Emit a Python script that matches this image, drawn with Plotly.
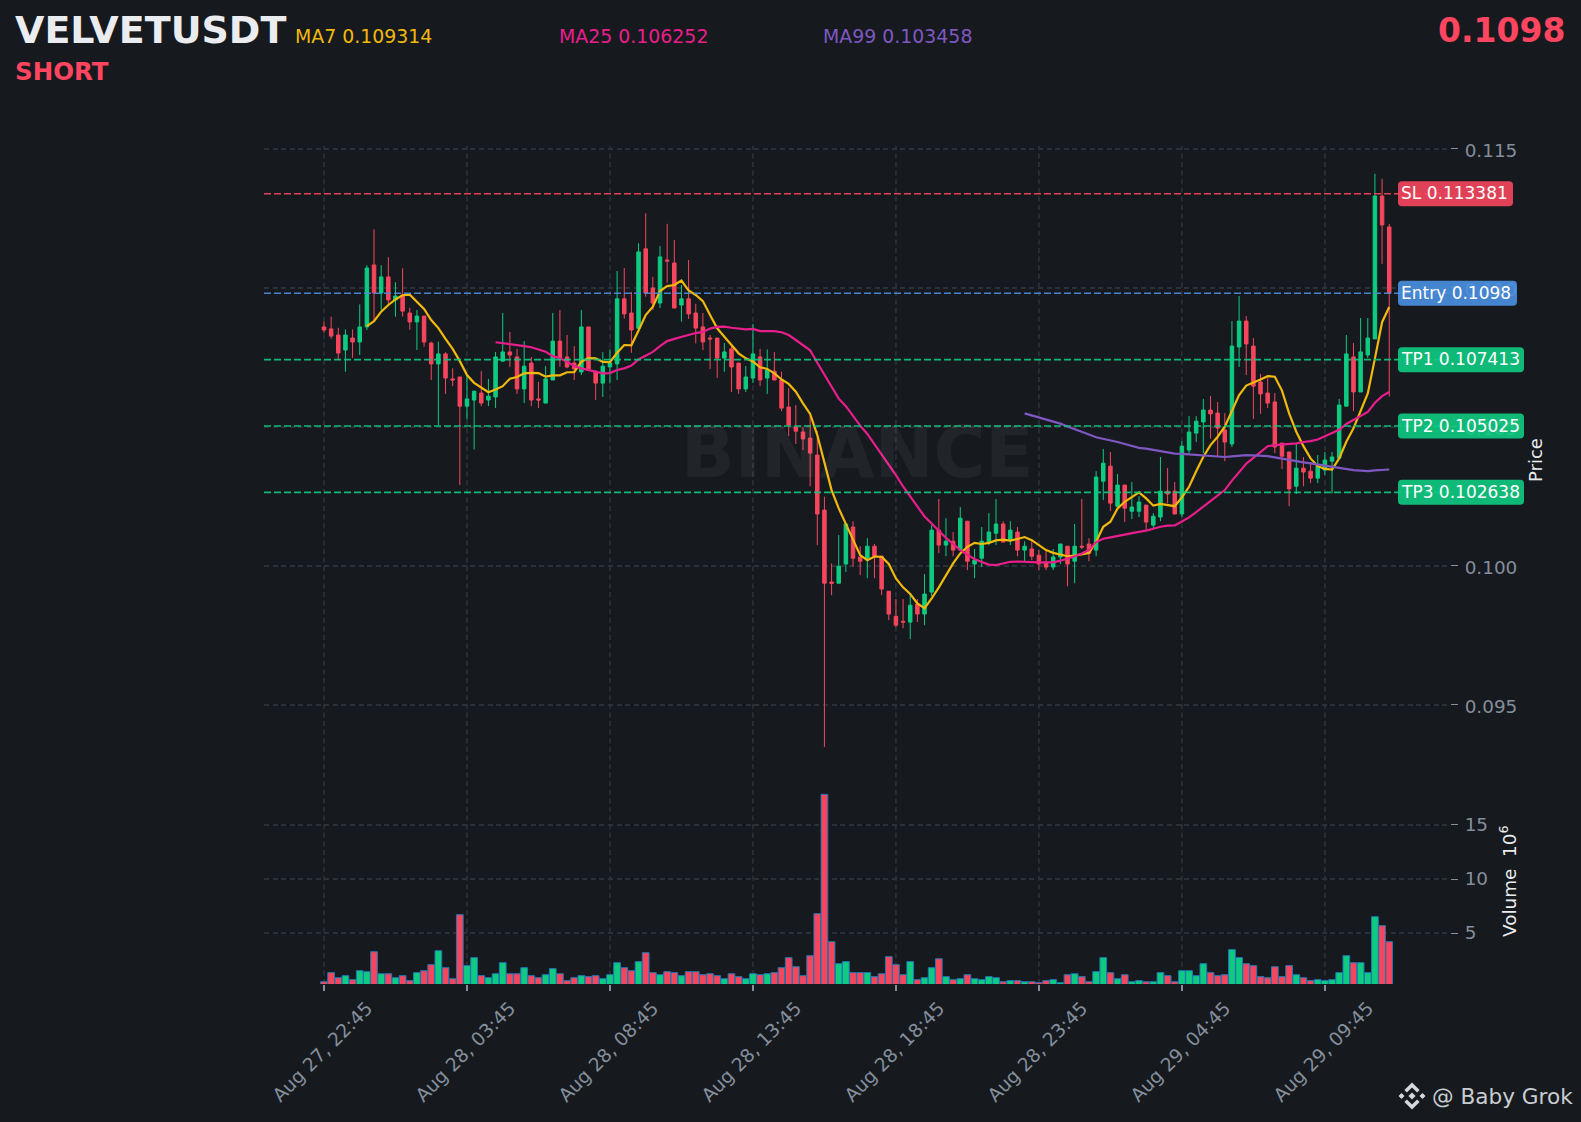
import pandas as pd
import plotly.graph_objects as go
from plotly.subplots import make_subplots

times = pd.date_range("2025-08-27 22:45", periods=150, freq="15min")

opens = [.10859, .10852, .10830, .10776, .10819, .10805, .10859, .11082, .10981, .11039,
         .10956, .10974, .10909, .10877, .10898, .10801, .10726, .10762, .10672, .10679,
         .10574, .10596, .10621, .10596, .10607, .10736, .10769, .10751, .10636, .10729,
         .10600, .10585, .10668, .10808, .10751, .10729, .10697, .10859, .10697, .10657,
         .10715, .10726, .10960, .10909, .10854, .11140, .10999, .10945, .11100, .11089,
         .10938, .10960, .10909, .10859, .10819, .10819, .10747, .10780, .10729, .10636,
         .10675, .10751, .10675, .10700, .10668, .10571, .10499, .10481, .10459, .10398,
         .10200, .09941, .09937, .10006, .10139, .10031, .10027, .10070, .10034, .09908,
         .09818, .09800, .09797, .09862, .09826, .09905, .10128, .10074, .10088, .10056,
         .10160, .10006, .10027, .10085, .10117, .10150, .10092, .10121, .10056, .10060,
         .10038, .10013, .09995, .10031, .10070, .10016, .10070, .10078, .10056, .10304,
         .10358, .10214, .10290, .10196, .10196, .10218, .10146, .10175, .10268, .10268,
         .10186, .10416, .10477, .10517, .10560, .10549, .10488, .10438, .10787, .10880,
         .10790, .10661, .10621, .10589, .10441, .10409, .10286, .10351, .10340, .10315,
         .10344, .10376, .10387, .10574, .10751, .10625, .10758, .10816, .11330, .11219]

highs = [.10878, .10896, .10856, .10850, .10850, .10940, .11081, .11210, .11081, .11110,
         .11020, .11070, .10928, .10920, .10898, .10806, .10806, .10768, .10710, .10679,
         .10686, .10628, .10700, .10672, .10769, .10909, .10841, .10780, .10808, .10751,
         .10661, .10718, .10909, .10920, .10830, .10790, .10920, .10859, .10704, .10768,
         .10778, .11060, .11071, .10985, .11160, .11268, .11039, .11150, .11230, .11172,
         .11010, .11100, .10942, .10909, .10830, .10819, .10801, .10790, .10729, .10718,
         .10870, .10780, .10778, .10769, .10698, .10639, .10578, .10499, .10538, .10484,
         .10248, .10008, .10110, .10150, .10160, .10070, .10099, .10078, .10034, .09908,
         .09880, .09880, .09894, .09880, .09970, .10146, .10240, .10171, .10121, .10211,
         .10160, .10060, .10139, .10189, .10240, .10160, .10160, .10139, .10088, .10088,
         .10056, .10056, .10060, .10078, .10070, .10150, .10240, .10099, .10340, .10420,
         .10409, .10330, .10290, .10301, .10250, .10218, .10189, .10391, .10351, .10301,
         .10448, .10538, .10538, .10600, .10610, .10589, .10549, .10880, .10970, .10898,
         .10819, .10690, .10675, .10621, .10441, .10409, .10441, .10391, .10373, .10398,
         .10409, .10409, .10600, .10830, .10801, .10891, .10891, .11410, .11392, .11230]

lows = [.10838, .10817, .10740, .10698, .10748, .10758, .10848, .10884, .10920, .10942,
        .10896, .10896, .10849, .10776, .10788, .10668, .10506, .10618, .10646, .10290,
        .10526, .10418, .10574, .10574, .10567, .10736, .10715, .10618, .10585, .10574,
        .10567, .10585, .10668, .10716, .10710, .10668, .10686, .10704, .10596, .10607,
        .10656, .10668, .10889, .10766, .10848, .10968, .10920, .10927, .11018, .10927,
        .10878, .10888, .10800, .10776, .10708, .10675, .10698, .10625, .10618, .10625,
        .10657, .10646, .10618, .10668, .10556, .10466, .10438, .10416, .10286, .10074,
        .09348, .09894, .09937, .09977, .09996, .09966, .09955, .09955, .09894, .09804,
        .09779, .09775, .09736, .09797, .09786, .09890, .10045, .10034, .10034, .10056,
        .09984, .09955, .09995, .10074, .10074, .10085, .10074, .10034, .10016, .10020,
        .09984, .09984, .09984, .10006, .09926, .09937, .10060, .10016, .10034, .10236,
        .10196, .10200, .10157, .10168, .10175, .10128, .10135, .10160, .10225, .10186,
        .10175, .10402, .10445, .10405, .10457, .10391, .10376, .10427, .10715, .10686,
        .10528, .10546, .10567, .10405, .10348, .10214, .10258, .10286, .10297, .10297,
        .10326, .10260, .10387, .10574, .10556, .10625, .10747, .10816, .11086, .10608]

closes = [.10848, .10826, .10765, .10830, .10805, .10859, .11071, .10981, .11039, .10956,
          .10970, .10916, .10877, .10898, .10805, .10726, .10762, .10675, .10668, .10574,
          .10600, .10628, .10585, .10610, .10751, .10769, .10758, .10636, .10718, .10596,
          .10596, .10672, .10808, .10747, .10715, .10708, .10859, .10708, .10657, .10718,
          .10729, .10960, .10906, .10848, .11129, .10981, .10945, .11111, .11096, .10927,
          .10960, .10906, .10855, .10805, .10816, .10747, .10769, .10715, .10636, .10679,
          .10762, .10668, .10704, .10668, .10567, .10506, .10484, .10456, .10405, .10186,
          .09937, .09937, .09998, .10150, .10027, .10016, .10070, .10034, .09916, .09826,
          .09786, .09797, .09858, .09826, .09898, .10128, .10074, .10088, .10056, .10171,
          .10016, .10020, .10088, .10121, .10150, .10085, .10128, .10056, .10070, .10034,
          .10006, .09995, .10031, .10078, .10006, .10070, .10067, .10045, .10319, .10369,
          .10225, .10290, .10207, .10211, .10229, .10157, .10178, .10268, .10258, .10186,
          .10430, .10481, .10520, .10560, .10546, .10495, .10445, .10790, .10880, .10798,
          .10646, .10618, .10585, .10427, .10394, .10276, .10351, .10337, .10315, .10358,
          .10380, .10391, .10578, .10762, .10625, .10769, .10819, .11330, .11226, .10980]

# millions
volumes = [0.49, 1.33, 0.86, 1.05, 0.68, 1.51, 1.42, 3.27, 1.23, 1.23,
           0.86, 1.05, 0.59, 1.33, 1.51, 2.07, 3.36, 1.79, 0.77, 6.70,
           1.98, 2.72, 1.05, 0.86, 1.23, 2.25, 1.23, 1.23, 1.79, 1.05,
           0.86, 1.14, 1.70, 1.23, 0.59, 0.86, 1.05, 0.96, 1.05, 0.77,
           1.14, 2.25, 1.79, 1.51, 2.35, 3.18, 1.33, 1.14, 1.42, 1.33,
           1.05, 1.42, 1.42, 1.14, 1.23, 1.05, 0.77, 1.23, 0.96, 0.77,
           1.23, 1.14, 1.23, 1.33, 1.79, 2.72, 1.88, 1.05, 2.90, 6.79,
           17.84, 4.20, 2.16, 2.35, 1.33, 1.33, 1.33, 0.96, 1.23, 2.81,
           2.07, 1.14, 2.35, 0.68, 0.86, 1.79, 2.62, 0.96, 0.68, 0.77,
           1.14, 0.77, 0.68, 0.96, 0.86, 0.49, 0.59, 0.59, 0.49, 0.49,
           0.40, 0.59, 0.68, 0.40, 1.14, 1.23, 0.96, 0.49, 1.42, 2.72,
           1.33, 0.77, 1.14, 0.49, 0.59, 0.49, 0.49, 1.33, 1.05, 0.49,
           1.51, 1.51, 1.05, 2.16, 1.33, 1.05, 1.14, 3.46, 2.72, 2.16,
           1.98, 0.96, 0.86, 1.88, 0.96, 1.98, 1.14, 0.86, 0.59, 0.68,
           0.59, 0.68, 1.33, 2.90, 2.25, 2.25, 1.33, 6.51, 5.68, 4.20]

# moving averages, they start at candle 6, 24 and 98
ma7 = [.10862, .10880, .10914, .10938, .10958, .10973, .10975, .10950, .10924, .10884,
       .10855, .10816, .10780, .10736, .10686, .10658, .10640, .10624, .10634, .10646,
       .10673, .10679, .10692, .10694, .10693, .10680, .10685, .10685, .10696, .10696,
       .10734, .10747, .10746, .10733, .10732, .10766, .10794, .10793, .10846, .10902,
       .10932, .10988, .11006, .11010, .11026, .10990, .10974, .10952, .10902, .10854,
       .10824, .10794, .10764, .10746, .10735, .10714, .10708, .10692, .10670, .10654,
       .10626, .10584, .10546, .10470, .10374, .10272, .10206, .10152, .10092, .10038,
       .10020, .10033, .10032, .10006, .09954, .09922, .09898, .09864, .09847, .09882,
       .09922, .09966, .10008, .10044, .10068, .10082, .10078, .10082, .10091, .10094,
       .10090, .10096, .10103, .10092, .10074, .10056, .10046, .10039, .10034, .10036,
       .10042, .10046, .10086, .10140, .10158, .10206, .10230, .10248, .10264, .10242,
       .10216, .10222, .10218, .10214, .10246, .10284, .10340, .10392, .10434, .10464,
       .10500, .10560, .10614, .10648, .10658, .10670, .10682, .10680, .10630, .10548,
       .10482, .10430, .10386, .10358, .10348, .10346, .10386, .10446, .10494, .10554,
       .10620, .10746, .10876, .10931]

ma25 = [.10804, .10801, .10798, .10794, .10790, .10786, .10777, .10770, .10754, .10746,
        .10734, .10718, .10710, .10704, .10697, .10692, .10693, .10704, .10710, .10720,
        .10742, .10757, .10769, .10790, .10808, .10816, .10823, .10829, .10837, .10841,
        .10853, .10859, .10860, .10856, .10853, .10850, .10852, .10844, .10844, .10844,
        .10840, .10830, .10812, .10793, .10775, .10730, .10686, .10642, .10601, .10574,
        .10538, .10504, .10474, .10438, .10400, .10362, .10326, .10285, .10248, .10212,
        .10177, .10152, .10126, .10100, .10078, .10056, .10039, .10024, .10013, .10004,
        .10002, .10008, .10014, .10015, .10015, .10013, .10012, .10012, .10012, .10018,
        .10025, .10034, .10044, .10056, .10085, .10097, .10102, .10108, .10112, .10117,
        .10121, .10126, .10133, .10140, .10144, .10145, .10159, .10174, .10193, .10212,
        .10231, .10250, .10272, .10306, .10336, .10367, .10388, .10410, .10430, .10434,
        .10436, .10438, .10440, .10445, .10448, .10454, .10465, .10476, .10489, .10510,
        .10525, .10538, .10553, .10586, .10610, .10625]

ma99 = [.10548, .10541, .10534, .10525, .10518, .10511, .10501, .10492, .10482, .10472,
        .10462, .10457, .10451, .10445, .10438, .10430, .10424, .10421, .10416, .10411,
        .10408, .10403, .10402, .10400, .10398, .10397, .10394, .10393, .10391, .10393,
        .10396, .10398, .10397, .10396, .10394, .10390, .10385, .10380, .10376, .10372,
        .10368, .10364, .10360, .10355, .10351, .10348, .10344, .10342, .10340, .10343,
        .10344, .10346]

tick_labels = ["Aug 27, 22:45", "Aug 28, 03:45", "Aug 28, 08:45", "Aug 28, 13:45",
               "Aug 28, 18:45", "Aug 28, 23:45", "Aug 29, 04:45", "Aug 29, 09:45"]
tick_vals = list(times[::20])

levels = [("SL 0.113381", 0.113381, "#f6465d", 115),
          ("Entry 0.1098", 0.1098, "#4a90e2", 119),
          ("TP1 0.107413", 0.107413, "#0ecb81", 126),
          ("TP2 0.105025", 0.105025, "#0ecb81", 126),
          ("TP3 0.102638", 0.102638, "#0ecb81", 126)]

BG = "#161a1e"
UP = "#0ecb81"
DOWN = "#f6465d"
GRID = "#2b3139"
TICK = "#848e9c"
FONT = "DejaVu Sans"

# plot area in page pixels
L, R, T, B = 264, 1450, 146, 984


def px(x, y):
    return (x - L) / (R - L), (B - y) / (B - T)


def text_at(fig, x, y, text, size, color, anchor="left", bold=False, angle=0):
    xp, yp = px(x, y)
    fig.add_annotation(x=xp, y=yp, xref="paper", yref="paper", text=f"<b>{text}</b>" if bold else text,
                       showarrow=False, xanchor=anchor, yanchor="middle", textangle=angle,
                       font=dict(family=FONT, size=size, color=color), borderpad=0)


fig = make_subplots(rows=1, cols=1)

fig.add_trace(go.Candlestick(x=times, open=opens, high=highs, low=lows, close=closes,
                             increasing=dict(line=dict(color=UP, width=1), fillcolor=UP),
                             decreasing=dict(line=dict(color=DOWN, width=1), fillcolor=DOWN),
                             showlegend=False))
fig.add_trace(go.Scatter(x=times[6:], y=ma7, mode="lines", line=dict(color="#f0b90b", width=2.2), showlegend=False))
fig.add_trace(go.Scatter(x=times[24:], y=ma25, mode="lines", line=dict(color="#e91e8c", width=2.2), showlegend=False))
fig.add_trace(go.Scatter(x=times[98:], y=ma99, mode="lines", line=dict(color="#7e57c2", width=2.2), showlegend=False))

bar_colors = [UP if c >= o else DOWN for o, c in zip(opens, closes)]
fig.add_trace(go.Bar(x=times, y=volumes, yaxis="y2", marker=dict(color=bar_colors, line=dict(color="#1f77b4", width=1)),
                     showlegend=False))

# vertical grid runs through both panes, so it can't be the axis grid
for t in tick_vals:
    fig.add_shape(type="line", x0=t, x1=t, y0=0, y1=1, xref="x", yref="paper", layer="below",
                  line=dict(color=GRID, width=1.7, dash="5px,3.6px"))

for name, price, color, w in levels:
    fig.add_shape(type="line", x0=0, x1=1, y0=price, y1=price, xref="paper", yref="y", layer="above",
                  line=dict(color=color, width=1.6, dash="7px,3px"), opacity=0.9)

for name, price, color, w in levels:
    # rounded label box, size in pixels around the price
    x0, x1, h, r = -52, -52 + w, 12.5, 4
    path = (f"M {x0 + r} {-h} L {x1 - r} {-h} Q {x1} {-h} {x1} {-h + r} L {x1} {h - r} Q {x1} {h} {x1 - r} {h} "
            f"L {x0 + r} {h} Q {x0} {h} {x0} {h - r} L {x0} {-h + r} Q {x0} {-h} {x0 + r} {-h} Z")
    fig.add_shape(type="path", path=path, xref="paper", yref="y", xsizemode="pixel", ysizemode="pixel",
                  xanchor=1, yanchor=price, fillcolor=color, opacity=0.9, line=dict(width=0), layer="above")
    fig.add_annotation(x=1, y=price, xref="paper", yref="y", text=name, showarrow=False, xanchor="left",
                       yanchor="middle", xshift=-51, yshift=0.5, font=dict(family=FONT, size=17, color="#ffffff"))

# x labels turn around their centre in the reference, plotly tick labels don't
for t, label in zip(tick_vals, tick_labels):
    fig.add_annotation(x=t, y=px(0, 1051)[1], xref="x", yref="paper", text=label, showarrow=False, textangle=-45,
                       xanchor="center", yanchor="middle", xshift=-1.5, font=dict(family=FONT, size=18.7, color=TICK))

text_at(fig, 857, 453, "BINANCE", 70.5, "rgba(255,255,255,0.05)", "center", True)
text_at(fig, 14, 30, "VELVETUSDT", 38, "#eaecef", bold=True)
text_at(fig, 14, 71, "SHORT", 24.5, "#ff4560", bold=True)
text_at(fig, 294, 36, "MA7 0.109314", 18.9, "#f0b90b")
text_at(fig, 558, 36, "MA25 0.106252", 18.9, "#e91e8c")
text_at(fig, 822, 36, "MA99 0.103458", 18.9, "#7e57c2")
text_at(fig, 1566, 31, "0.1098", 33, "#ff4560", "right", True)
text_at(fig, 1535, 460, "Price", 18, "#eaecef", "center", angle=-90)
text_at(fig, 1508, 881, "Volume  10<sup>6</sup>", 18.4, "#eaecef", "center", angle=-90)
text_at(fig, 1431, 1096, "@ Baby Grok", 21.6, "#c9cdd2")

# binance logo
lx, ly = 1412, 1096
logo = [[(0, -13.5), (7.6, -5.9), (5.1, -3.4), (0, -8.5), (-5.1, -3.4), (-7.6, -5.9)],
        [(0, 13.5), (7.6, 5.9), (5.1, 3.4), (0, 8.5), (-5.1, 3.4), (-7.6, 5.9)],
        [(0, -3.6), (3.6, 0), (0, 3.6), (-3.6, 0)],
        [(-10.5, -3), (-7.5, 0), (-10.5, 3), (-13.5, 0)],
        [(10.5, -3), (13.5, 0), (10.5, 3), (7.5, 0)]]
for poly in logo:
    pts = [px(lx + a, ly + b) for a, b in poly]
    path = "M " + " L ".join(f"{a} {b}" for a, b in pts) + " Z"
    fig.add_shape(type="path", path=path, xref="paper", yref="paper", fillcolor="#d5d8dc", line=dict(width=0), layer="above")

start = times[0]
candle = pd.Timedelta(minutes=15)
fig.update_layout(
    width=1581, height=1122,
    margin=dict(l=L, r=1581 - R, t=T, b=1122 - B),
    paper_bgcolor=BG, plot_bgcolor=BG,
    font=dict(family=FONT, color=TICK),
    bargap=0.06,
    showlegend=False,
    xaxis=dict(range=[start - 8.39 * candle, start + 157.5 * candle], rangeslider=dict(visible=False),
               anchor="y2", showgrid=False, zeroline=False, showline=False, tickvals=tick_vals,
               showticklabels=False, ticks="outside", ticklen=6, tickwidth=1.5, tickcolor=TICK),
    yaxis=dict(domain=[0.2554, 1], range=[0.09265, 0.1151], side="right", tickvals=[0.095, 0.1, 0.105, 0.11, 0.115],
               ticktext=["0.095", "0.100", "0.105", "0.110", "0.115"], showgrid=True, gridcolor=GRID, griddash="5px,3.6px",
               gridwidth=1.6, zeroline=False, showline=False, ticks="outside", ticklen=7, tickcolor=TICK, tickwidth=1.2,
               ticklabelstandoff=3, ticklabelshift=2, tickfont=dict(family=FONT, size=18.4, color=TICK), anchor="x"),
    yaxis2=dict(domain=[0, 0.2315], range=[0.278, 18.24], side="right", tickvals=[5, 10, 15],
                showgrid=True, gridcolor=GRID, griddash="5px,3.6px", gridwidth=1.6, zeroline=False, showline=False,
                ticks="outside", ticklen=7, tickcolor=TICK, tickwidth=1.2, ticklabelstandoff=3,
                tickfont=dict(family=FONT, size=18.4, color=TICK), anchor="x"),
)

# page margin off, the figure has to sit at the window corner
fig.write_html("out.html", config={"displayModeBar": False}, post_script="document.body.style.margin = '0';")
